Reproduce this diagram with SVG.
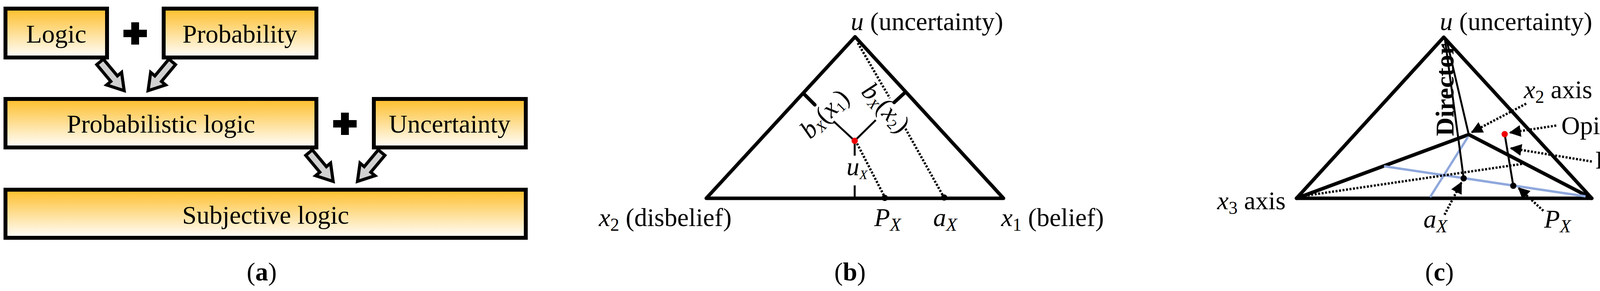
<svg xmlns="http://www.w3.org/2000/svg" width="4290" height="744" viewBox="0 0 4290 744">
<defs>
<linearGradient id="g" x1="0" y1="0" x2="0" y2="1"><stop offset="0" stop-color="#FDBE2A"/><stop offset="1" stop-color="#FFFFFF"/></linearGradient>
<marker id="ah" viewBox="0 0 10 10" refX="9" refY="5" markerWidth="5" markerHeight="5" orient="auto" markerUnits="strokeWidth"><path d="M0,0 L10,5 L0,10 Z" fill="#000"/></marker>
<path id="blk" d="M-48,-11 L8,-11 L8,-25 L48,0 L8,25 L8,11 L-48,11 Z"/>
</defs>
<style>
.box{fill:url(#g);stroke:#000;stroke-width:10}
.t{font-family:"Liberation Serif",serif;font-size:66px;fill:#000}
.i{font-style:italic}
.s{font-size:46px}
.e{fill:none;stroke:#000;stroke-width:9;stroke-linecap:round;stroke-linejoin:round}
.th{fill:none;stroke:#000;stroke-width:5}
.d{fill:none;stroke:#000;stroke-width:6;stroke-dasharray:5 4}
.bl{fill:none;stroke:#8FA8DC;stroke-width:6}
.arr{fill:#D0D0D0;stroke:#000;stroke-width:8}
</style>
<g id="panel-a">
<g id="logic"><rect class="box" x="14" y="22" width="260" height="125"/><text class="t" x="144" y="109" text-anchor="middle">Logic</text></g>
<g id="probability"><rect class="box" x="419" y="22" width="391" height="125"/><text class="t" x="614" y="109" text-anchor="middle">Probability</text></g>
<g id="plus1"><path d="M336,57 h20 v19 h20 v19 h-20 v19 h-20 v-19 h-20 v-19 h20 z" fill="#000"/></g>
<g id="problogic"><rect class="box" x="14" y="253" width="796" height="124"/><text class="t" x="412" y="339" text-anchor="middle">Probabilistic logic</text></g>
<g id="plus2"><path d="M873,288 h20 v19 h20 v19 h-20 v19 h-20 v-19 h-20 v-19 h20 z" fill="#000"/></g>
<g id="uncertainty"><rect class="box" x="957" y="253" width="389" height="124"/><text class="t" x="1151" y="339" text-anchor="middle">Uncertainty</text></g>
<g id="subjective"><rect class="box" x="14" y="485" width="1332" height="123"/><text class="t" x="680" y="572" text-anchor="middle">Subjective logic</text></g>
<g id="arrows-a">
<use href="#blk" class="arr" transform="translate(287,195) rotate(50)"/>
<use href="#blk" class="arr" transform="translate(410,195) rotate(130)"/>
<use href="#blk" class="arr" transform="translate(822,427) rotate(50)"/>
<use href="#blk" class="arr" transform="translate(946,427) rotate(130)"/>
</g>
<text class="t" x="670" y="717" text-anchor="middle">(<tspan font-weight="bold">a</tspan>)</text>
</g>
<g id="panel-b">
<g id="tri-b"><path class="e" d="M2189,94 L1808,507 L2569,507 Z"/></g>
<g id="marks-b">
<line class="e" x1="2059" y1="241" x2="2086" y2="268"/>
<line class="e" x1="2314" y1="239" x2="2289" y2="262"/>
<line class="th" x1="2188" y1="360" x2="2134" y2="310" stroke-width="8"/>
<line class="th" x1="2188" y1="360" x2="2242" y2="307" stroke-width="8"/>
<line class="th" x1="2188" y1="367" x2="2188" y2="398" stroke-width="7"/>
<line class="th" x1="2188" y1="474" x2="2188" y2="505" stroke-width="7"/>
<line class="d" x1="2194" y1="367" x2="2263" y2="500"/>
<line class="d" x1="2196" y1="110" x2="2278" y2="251"/>
<line class="d" x1="2318" y1="329" x2="2415" y2="502"/>
<circle cx="2188" cy="360" r="8" fill="#E00"/>
<circle cx="2265" cy="506" r="8" fill="#000"/>
<circle cx="2417" cy="505" r="8" fill="#000"/>
</g>
<text class="t" x="2178" y="77"><tspan class="i">u</tspan> (uncertainty)</text>
<text class="t" x="1533" y="578"><tspan class="i">x</tspan><tspan class="s" dy="12">2</tspan><tspan dy="-12"> (disbelief)</tspan></text>
<text class="t i" x="2238" y="578">P<tspan class="s" dy="12">X</tspan></text>
<text class="t i" x="2389" y="578">a<tspan class="s" dy="12">X</tspan></text>
<text class="t" x="2563" y="578"><tspan class="i">x</tspan><tspan class="s" dy="12">1</tspan><tspan dy="-12"> (belief)</tspan></text>
<text class="t i" x="2167" y="448" font-size="48">u<tspan font-size="34" dy="10">X</tspan></text>
<text class="t i" font-size="52" text-anchor="middle" transform="translate(2126,306) rotate(-45)">b<tspan font-size="36" dy="8">X</tspan><tspan dy="-8" font-style="normal">(</tspan>x<tspan font-size="36" dy="8" font-style="normal">1</tspan><tspan dy="-8" font-style="normal">)</tspan></text>
<text class="t i" font-size="52" text-anchor="middle" transform="translate(2252,290) rotate(47)">b<tspan font-size="36" dy="8">X</tspan><tspan dy="-8" font-style="normal">(</tspan>x<tspan font-size="36" dy="8" font-style="normal">2</tspan><tspan dy="-8" font-style="normal">)</tspan></text>
<text class="t" x="2176" y="717" text-anchor="middle">(<tspan font-weight="bold">b</tspan>)</text>
</g>
<g id="panel-c">
<g id="tetra">
<path class="e" d="M3696,95 L3319,507 L4075,507 Z"/>
<path class="e" d="M3319,507 L3760,344 L4075,507"/>
<line class="th" x1="3704" y1="105" x2="3760" y2="344" stroke-width="6"/>
<line class="bl" x1="3543" y1="425" x2="4059" y2="502"/>
<line class="bl" x1="3758" y1="350" x2="3661" y2="504"/>
<line class="th" x1="3699" y1="100" x2="3747" y2="456" stroke-width="6"/>
<line class="th" x1="3852" y1="343" x2="3874" y2="475" stroke-width="6"/>
<circle cx="3747" cy="456" r="8" fill="#000"/>
<circle cx="3874" cy="475" r="8" fill="#000"/>
<circle cx="3852" cy="343" r="8" fill="#E00"/>
</g>
<g id="connectors">
<line class="d" x1="3330" y1="502" x2="3897" y2="419"/>
<line class="d" x1="3907" y1="265" x2="3768" y2="338" marker-end="url(#ah)"/>
<line class="d" x1="3984" y1="321" x2="3866" y2="339" marker-end="url(#ah)"/>
<line class="d" x1="4075" y1="413" x2="3868" y2="379" marker-end="url(#ah)"/>
<line class="d" x1="3698" y1="549" x2="3741" y2="467" marker-end="url(#ah)"/>
<line class="d" x1="3951" y1="539" x2="3888" y2="481" marker-end="url(#ah)"/>
</g>
<text class="t" x="3686" y="77"><tspan class="i">u</tspan> (uncertainty)</text>
<text class="t" x="3901" y="251"><tspan class="i">x</tspan><tspan class="s" dy="12">2</tspan><tspan dy="-12"> axis</tspan></text>
<text class="t" x="3997" y="343">Opinion</text>
<text class="t" x="4084" y="431" font-size="50">Projector</text>
<text class="t" x="3116" y="535"><tspan class="i">x</tspan><tspan class="s" dy="12">3</tspan><tspan dy="-12"> axis</tspan></text>
<text class="t" x="4104" y="535"><tspan class="i">x</tspan><tspan class="s" dy="12">1</tspan><tspan dy="-12"> axis</tspan></text>
<text class="t i" x="3644" y="582">a<tspan class="s" dy="12">X</tspan></text>
<text class="t i" x="3953" y="582">P<tspan class="s" dy="12">X</tspan></text>
<text class="t" font-size="48" font-weight="bold" transform="translate(3721,348) rotate(-90)">Director</text>
<text class="t" x="3685" y="717" text-anchor="middle">(<tspan font-weight="bold">c</tspan>)</text>
</g>
</svg>
